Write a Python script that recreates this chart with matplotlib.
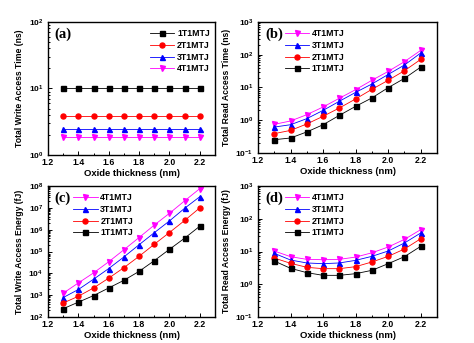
import math

import matplotlib
matplotlib.use("Agg")
import matplotlib.pyplot as plt
from matplotlib.ticker import LogLocator, FuncFormatter, MultipleLocator, NullFormatter

plt.rcParams["font.family"] = ["Liberation Sans", "DejaVu Sans"]
plt.rcParams["font.weight"] = "bold"
plt.rcParams["mathtext.fontset"] = "custom"
plt.rcParams["mathtext.rm"] = "Liberation Sans:bold"
plt.rcParams["mathtext.bf"] = "Liberation Sans:bold"

thickness = [1.3, 1.4, 1.5, 1.6, 1.7, 1.8, 1.9, 2.0, 2.1, 2.2]
labels = ["1T1MTJ", "2T1MTJ", "3T1MTJ", "4T1MTJ"]

# (a) total write access time (ns)
write_time = {
    "1T1MTJ": [10.0] * 10,
    "2T1MTJ": [3.83] * 10,
    "3T1MTJ": [2.46] * 10,
    "4T1MTJ": [1.86] * 10,
}

# (b) total read access time (ns)
read_time = {
    "1T1MTJ": [0.255, 0.287, 0.44, 0.73, 1.41, 2.66, 4.8, 9.9, 19.0, 42.0],
    "2T1MTJ": [0.39, 0.49, 0.77, 1.32, 2.37, 4.47, 8.8, 16.6, 32.6, 72.0],
    "3T1MTJ": [0.62, 0.73, 1.12, 2.0, 3.8, 7.1, 12.8, 25.0, 48.6, 113.0],
    "4T1MTJ": [0.75, 0.95, 1.48, 2.54, 4.7, 8.6, 16.6, 31.0, 61.6, 136.0],
}

# (c) total write access energy (fJ), log10 values
write_energy_log = {
    "1T1MTJ": [2.38, 2.68, 2.98, 3.33, 3.68, 4.09, 4.58, 5.10, 5.61, 6.16],
    "2T1MTJ": [2.64, 2.95, 3.33, 3.78, 4.26, 4.78, 5.33, 5.87, 6.42, 7.00],
    "3T1MTJ": [2.89, 3.26, 3.73, 4.22, 4.75, 5.31, 5.86, 6.40, 6.98, 7.51],
    "4T1MTJ": [3.09, 3.56, 4.02, 4.53, 5.08, 5.64, 6.21, 6.75, 7.32, 7.88],
}

# (d) total read access energy (fJ), log10 values
read_energy_log = {
    "1T1MTJ": [0.71, 0.486, 0.354, 0.272, 0.272, 0.323, 0.425, 0.628, 0.842, 1.158],
    "2T1MTJ": [0.80, 0.64, 0.517, 0.476, 0.476, 0.537, 0.68, 0.852, 1.076, 1.39],
    "3T1MTJ": [0.944, 0.74, 0.65, 0.628, 0.65, 0.73, 0.852, 1.015, 1.26, 1.565],
    "4T1MTJ": [1.015, 0.842, 0.76, 0.75, 0.76, 0.83, 0.96, 1.137, 1.37, 1.667],
}

styles = {
    "1T1MTJ": ("black", "s"),
    "2T1MTJ": ("red", "o"),
    "3T1MTJ": ("blue", "^"),
    "4T1MTJ": ("magenta", "v"),
}

W, H = 474, 343
fig = plt.figure(figsize=(W / 100, H / 100), dpi=100)


def make_ax(left, top, right, bottom):
    return fig.add_axes([left / W, 1 - bottom / H, (right - left) / W, (bottom - top) / H])


def style_ax(ax, ylo, yhi, ylabel, tag):
    ax.set_yscale("log")
    ax.set_xlim(1.2, 2.3)
    ax.set_ylim(10.0 ** ylo, 10.0 ** yhi)
    ax.xaxis.set_major_locator(MultipleLocator(0.2))
    ax.xaxis.set_minor_locator(MultipleLocator(0.1))
    ax.xaxis.set_major_formatter(FuncFormatter(lambda v, p: "" if v > 2.25 else f"{v:.1f}"))
    ax.yaxis.set_major_locator(LogLocator(base=10, numticks=20))
    ax.yaxis.set_minor_locator(LogLocator(base=10, subs=range(2, 10), numticks=20))
    ax.yaxis.set_minor_formatter(NullFormatter())
    ax.yaxis.set_major_formatter(
        FuncFormatter(lambda v, p: r"$\mathbf{10^{%d}}$" % round(math.log10(v)))
    )
    ax.tick_params(which="both", direction="in", width=0.7)
    ax.tick_params(axis="x", labelsize=6.3, pad=2.5)
    ax.tick_params(axis="y", labelsize=6.0)
    ax.tick_params(which="major", length=3)
    ax.tick_params(which="minor", length=1.5)
    for s in ax.spines.values():
        s.set_linewidth(1.0)
    ax.set_xlabel("Oxide thickness (nm)", fontsize=6.8, fontweight="bold", labelpad=1)
    ax.set_ylabel(ylabel, fontsize=6.2, fontweight="bold", labelpad=3)
    ax.text(0.04, 0.955, tag, transform=ax.transAxes, ha="left", va="top",
            fontsize=10.5, fontweight="bold", family=["Liberation Serif", "DejaVu Serif"])


def draw(ax, data, order, is_log, legend_loc, anchor):
    for name in order:
        color, marker = styles[name]
        vals = data[name]
        if is_log:
            vals = [10.0 ** v for v in vals]
        ax.plot(thickness, vals, color=color, marker=marker, markersize=3.6,
                linewidth=0.6, label=name)
    ax.legend(loc=legend_loc, bbox_to_anchor=anchor, frameon=False, fontsize=6.3,
              handlelength=2.8, handletextpad=0.3, labelspacing=0.3, borderpad=0.2,
              borderaxespad=0.2)


ax_a = make_ax(48, 22, 215, 155)
draw(ax_a, write_time, labels, False, "upper right", (0.99, 0.97))
style_ax(ax_a, 0, 2, "Total Write Access Time (ns)", "(a)")

ax_b = make_ax(258, 22, 437, 153)
draw(ax_b, read_time, labels[::-1], False, "upper left", (0.13, 0.97))
style_ax(ax_b, -1, 3, "Total Read Access Time (ns)", "(b)")

ax_c = make_ax(48, 186, 215, 317)
draw(ax_c, write_energy_log, labels[::-1], True, "upper left", (0.13, 0.97))
style_ax(ax_c, 2, 8, "Total Write Access Energy (fJ)", "(c)")

ax_d = make_ax(258, 186, 437, 317)
draw(ax_d, read_energy_log, labels[::-1], True, "upper left", (0.13, 0.97))
style_ax(ax_d, -1, 3, "Total Read Access Energy (fJ)", "(d)")

fig.savefig("out.png", dpi=100)
